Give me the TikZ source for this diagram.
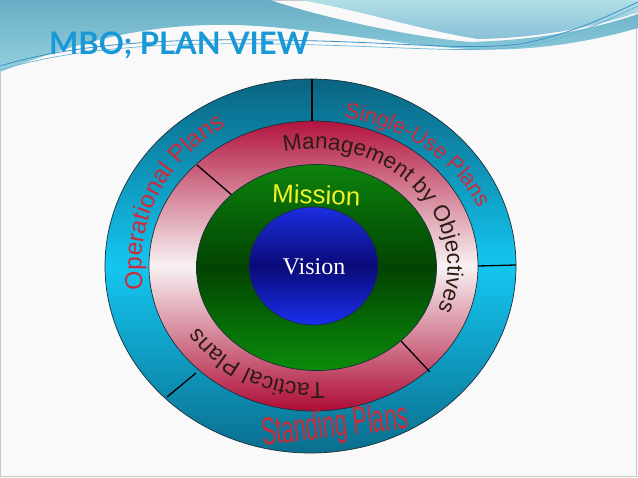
\documentclass[tikz,border=0pt]{standalone}
\usepackage{fontspec}
\setmainfont{Liberation Serif}
\setsansfont{Liberation Sans}
\newfontfamily\titlefont{Lato}
\usetikzlibrary{decorations.text,calc}
\definecolor{bgwhite}{HTML}{F9F9F9}
\definecolor{framegrey}{HTML}{C8C8C8}
\definecolor{titleblue}{HTML}{1898D6}
\definecolor{hdrtealtop}{HTML}{6AAEC6}
\definecolor{hdrtealbot}{HTML}{92D2DE}
\definecolor{hdrlighttop}{HTML}{B0DFE6}
\definecolor{hdrlightbot}{HTML}{88C0D8}
\definecolor{hdrline}{HTML}{3D8FC8}
\definecolor{hdrline2}{HTML}{6AB4D8}
\definecolor{tealdark}{HTML}{0A6482}
\definecolor{tealmid}{HTML}{14C6F0}
\definecolor{tealbot}{HTML}{0A6E8E}
\definecolor{pinktop}{HTML}{B2143E}
\definecolor{pinkmid}{HTML}{F8F2F3}
\definecolor{pinkbot}{HTML}{AE0C36}
\definecolor{greentop}{HTML}{0C820C}
\definecolor{greenmid}{HTML}{024402}
\definecolor{greenbot}{HTML}{0A8C0A}
\definecolor{bluetop}{HTML}{1C2EE0}
\definecolor{bluemid}{HTML}{0A0A78}
\definecolor{bluebot}{HTML}{1A30EE}
\definecolor{ringred}{HTML}{CF2A3A}
\definecolor{ringdark}{HTML}{2E1C12}
\definecolor{missionyellow}{HTML}{F2F226}
\definecolor{outline}{HTML}{1A2E38}
\tikzset{
  ring/.style={draw=outline, line width=0.7pt},
  divider/.style={draw=black, line width=1.3pt},
}
\begin{document}
\begin{tikzpicture}[x=1pt,y=1pt]
\useasboundingbox (0,0) rectangle (638,-478);
\fill[bgwhite] (0,0) rectangle (638,-478);
\draw[framegrey, line width=0.8pt] (0.5,-0.5) rectangle (636.5,-476.5);

% header swoosh
\shade[top color=hdrtealtop, bottom color=hdrtealbot]
  (0,0) -- (270,0) .. controls (330,-20) and (420,-38) .. (470,-42)
  .. controls (545,-40) and (600,-27) .. (638,-14) -- (638,-28)
  .. controls (590,-42) and (530,-52) .. (470,-49)
  .. controls (410,-46) and (360,-36) .. (300,-30)
  .. controls (200,-18) and (120,-25) .. (0,-72) -- cycle;
\shade[top color=hdrlighttop, bottom color=hdrlightbot]
  (300,0) -- (638,0) -- (638,-12) .. controls (600,-26) and (540,-38) .. (478,-39)
  .. controls (420,-30) and (360,-10) .. (300,0) -- cycle;
\draw[hdrline, line width=0.8pt]
  (0,-66) .. controls (80,-42) and (180,-37) .. (320,-41)
  .. controls (420,-44) and (470,-50) .. (520,-44)
  .. controls (570,-35) and (610,-15) .. (638,-2);
\draw[hdrline2, line width=0.7pt]
  (0,-70) .. controls (80,-46) and (180,-41) .. (320,-45)
  .. controls (420,-48) and (475,-53) .. (525,-46)
  .. controls (575,-37) and (612,-18) .. (638,-6);

\node[anchor=base west, inner sep=0, text=titleblue,
  font=\titlefont\bfseries\fontsize{31}{31}\selectfont] (title) at (49,-55) {MBO; PLAN VIEW};

% rings
\coordinate (oc) at (310.5,-266);
\coordinate (pc) at (313.5,-266);
\coordinate (gc) at (316.5,-267.5);
\coordinate (bc) at (313.5,-266);

\shade[ring, top color=tealdark, bottom color=tealbot, middle color=tealmid]
  (oc) ellipse [x radius=205.5, y radius=187];
\shade[ring, top color=pinktop, bottom color=pinkbot, middle color=pinkmid]
  (pc) ellipse [x radius=164.5, y radius=145];

\coordinate (d1a) at (312,-79);  \coordinate (d1b) at (312,-121);
\coordinate (d2a) at (478,-266); \coordinate (d2b) at (516,-265);
\coordinate (d3a) at (167,-397); \coordinate (d3b) at (196,-373);
\draw[divider] (d1a) -- (d1b);
\draw[divider] (d2a) -- (d2b);
\draw[divider] (d3a) -- (d3b);

\coordinate (e1a) at (197,-165); \coordinate (e1b) at (233,-196);
\coordinate (e2a) at (401,-341); \coordinate (e2b) at (430,-372);
\draw[divider] (e1a) -- (e1b);
\draw[divider] (e2a) -- (e2b);

\shade[ring, top color=greentop, bottom color=greenbot, middle color=greenmid]
  (gc) ellipse [x radius=120, y radius=103];
\shade[ring, top color=bluetop, bottom color=bluebot, middle color=bluemid]
  (bc) ellipse [x radius=64.5, y radius=59];

% texts
\node[anchor=base, inner sep=0, text=white, font=\rmfamily\fontsize{24}{24}\selectfont]
  (vision) at (314,-275) {Vision};
\node[anchor=base, inner sep=0, text=missionyellow, rotate=-2,
  font=\sffamily\fontsize{26}{26}\selectfont] (mission) at (316,-204) {Mission};

\path[decorate, decoration={text along path, text align=center,
  text={|\sffamily\fontsize{22.5}{22.5}\selectfont\color{ringdark}|Management by Objectives}}]
  ($(pc)+(110:134 and 117)$) arc[start angle=110, end angle=-30, x radius=134, y radius=117];
\path[decorate, decoration={text along path, text align=center,
  text={|\sffamily\fontsize{23}{23}\selectfont\color{ringdark}|Tactical Plans}}]
  ($(pc)+(-68:134 and 117)$) arc[start angle=-68, end angle=-168, x radius=134, y radius=117];

\path[decorate, decoration={text along path, text align=center,
  text={|\sffamily\fontsize{24.5}{24.5}\selectfont\color{ringred}|Operational Plans}}]
  ($(oc)+(207:169 and 161)$) arc[start angle=207, end angle=102, x radius=169, y radius=161];
\path[decorate, decoration={text along path, text align=center,
  text={|\sffamily\fontsize{22}{22}\selectfont\color{ringred}|Single-Use Plans}}]
  ($(oc)+(99:182 and 151)$) arc[start angle=99, end angle=-1, x radius=182, y radius=151];

\node[anchor=base, inner sep=0, text=ringred, rotate=6.7,
  font=\sffamily\fontsize{39}{39}\selectfont] (standing) at (336,-437)
  {\scalebox{0.56}[1]{Standing Plans}};
\end{tikzpicture}
\end{document}
